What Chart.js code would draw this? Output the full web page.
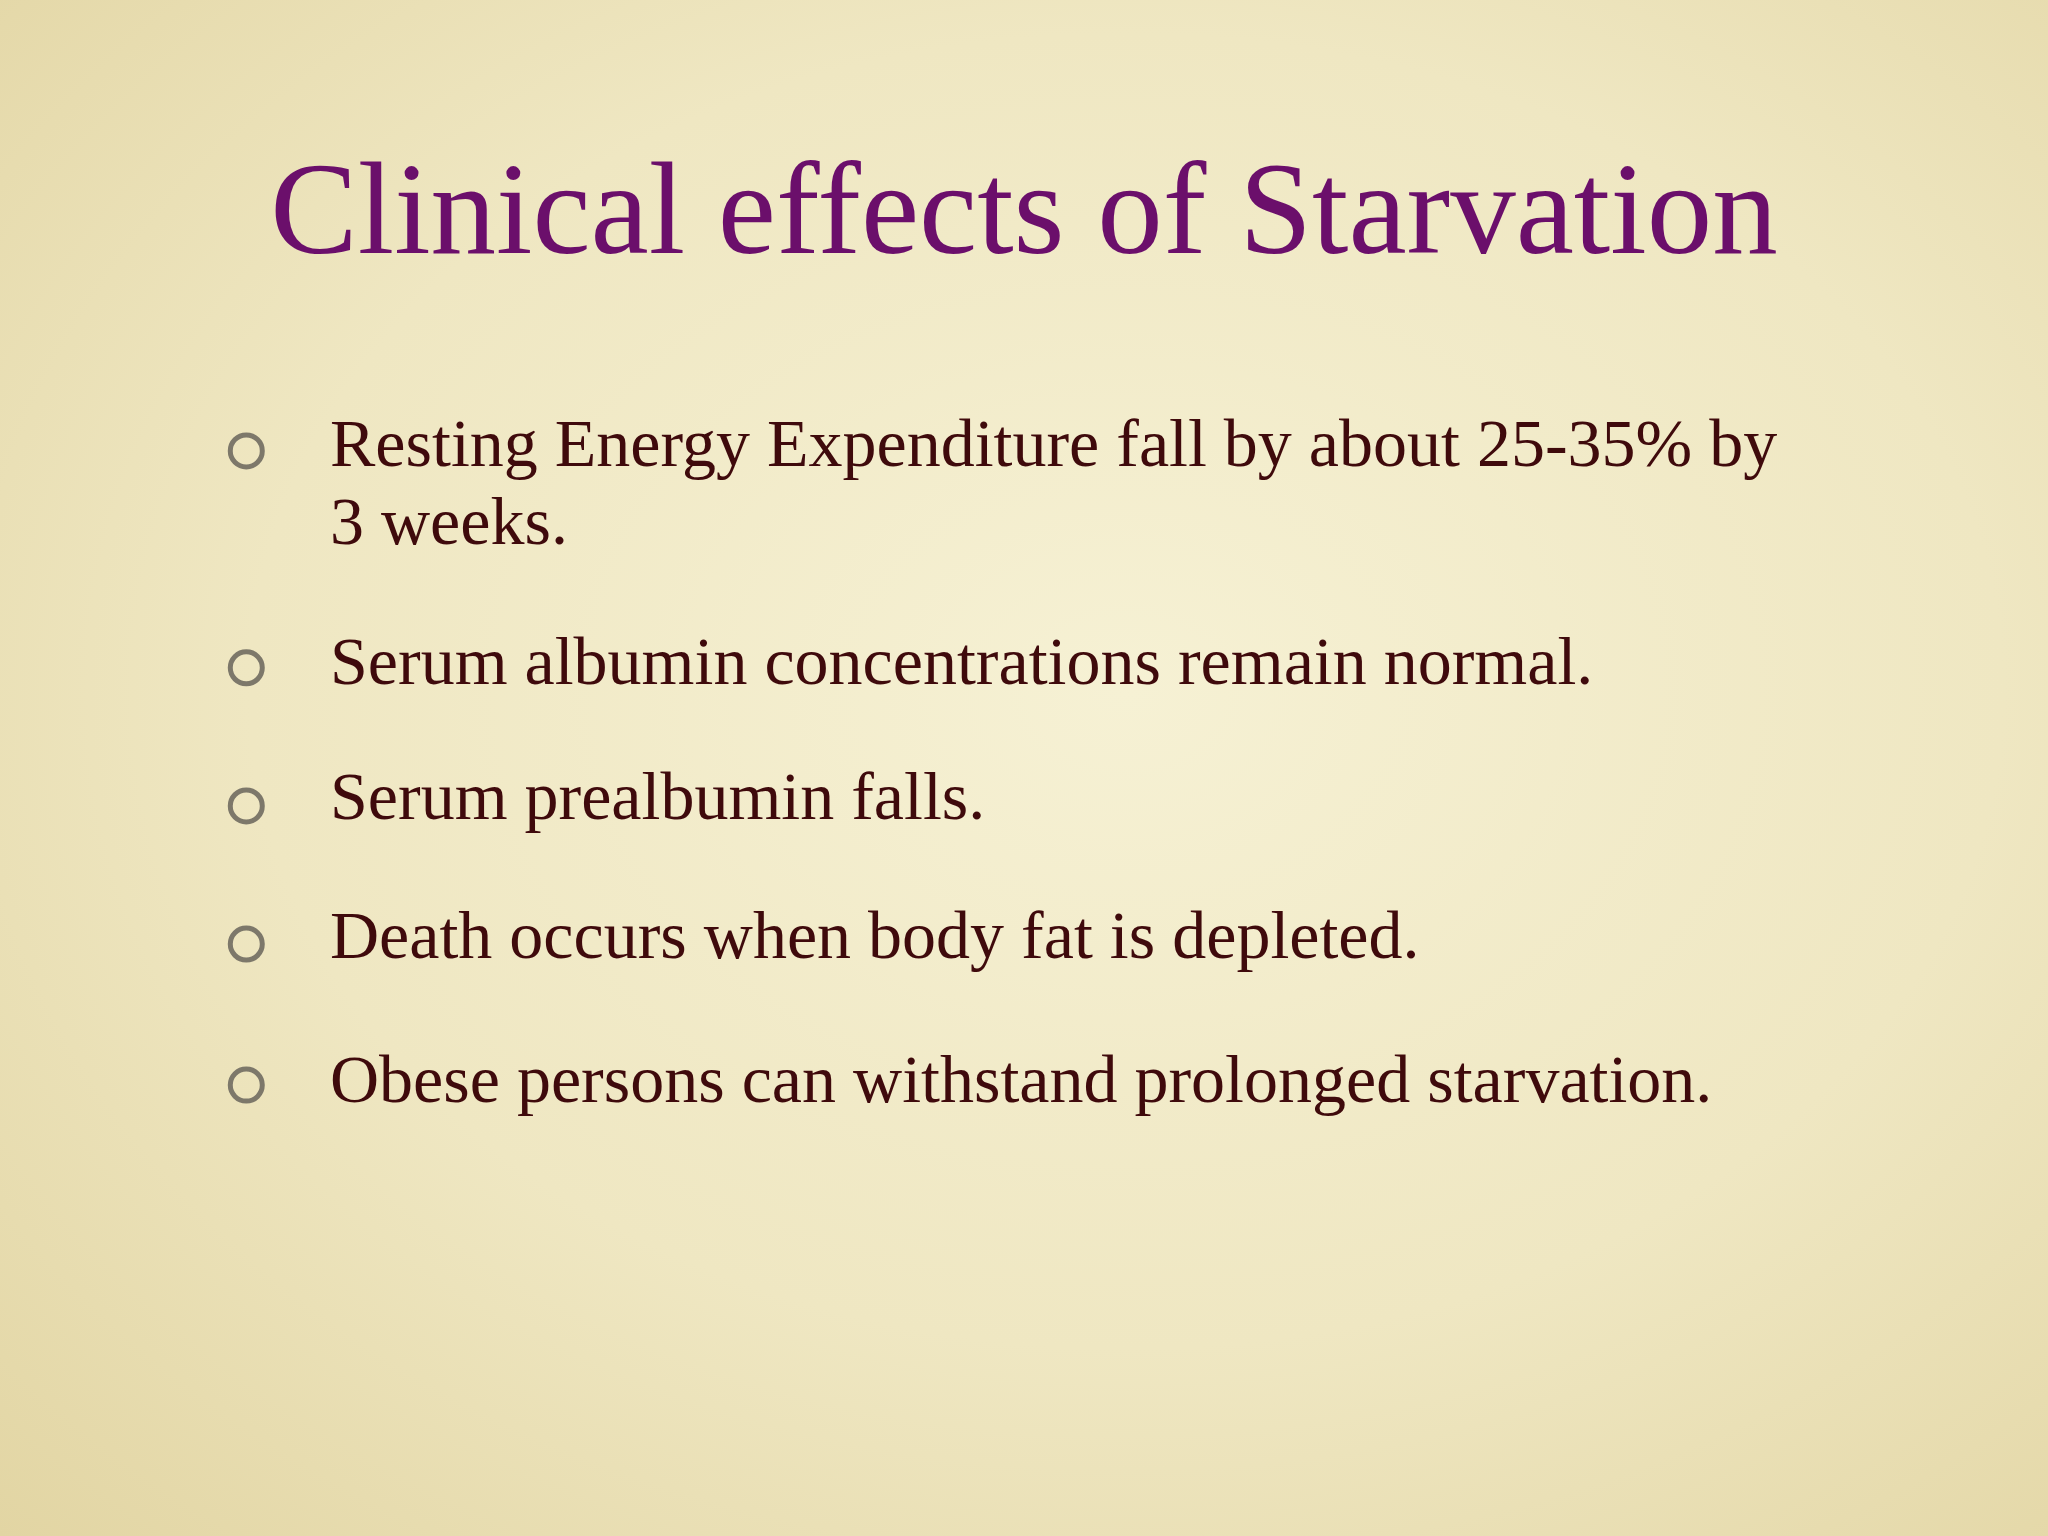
<!DOCTYPE html>
<html><head><meta charset="utf-8">
<script src="https://cdn.jsdelivr.net/npm/chart.js@4.4.1/dist/chart.umd.min.js"></script>
<style>
html,body{margin:0;padding:0;width:2048px;height:1536px;overflow:hidden;}
#wrap{position:relative;width:2048px;height:1536px;
background:radial-gradient(ellipse at 55% 45%, #f6f1d4 0%, #efe7c2 55%, #e2d5a3 100%);}
canvas{position:absolute;left:0;top:0;}
.t{position:absolute;font-family:"Liberation Serif","Times New Roman",serif;white-space:nowrap;}
#title{left:0;width:2048px;text-align:center;font-size:131px;line-height:131px;color:#6b0f6b;top:143px;}
.b{font-size:68px;line-height:68px;color:#3f0a0c;left:330px;}
</style></head><body>
<div id="wrap"><canvas id="c" width="2048" height="1536"></canvas>
<div id="title" class="t">Clinical effects of Starvation</div>
<div id="lines"></div></div>
<script>
const titleText = "Clinical effects of Starvation";
const bulletLines = [
 ["Resting Energy Expenditure fall by about 25-35% by","3 weeks."],
 ["Serum albumin concentrations remain normal."],
 ["Serum prealbumin falls."],
 ["Death occurs when body fat is depleted."],
 ["Obese persons can withstand prolonged starvation."]
];
const bulletY = [442, 665, 807, 949, 1094];
const baselines = [[466,546],[690],[829],[972],[1120]];
const bulletX = bulletLines.map(()=>230);

const ctx = document.getElementById('c');
const chart = new Chart(ctx, {
  type:'scatter',
  data:{datasets:[{data:bulletX.map((x,i)=>({x:x,y:bulletY[i]})),
    pointRadius:16, pointBorderWidth:5, borderColor:'#7d786a', backgroundColor:'rgba(0,0,0,0)'}]},
  options:{responsive:false,animation:false,events:[],
    layout:{padding:0},
    plugins:{legend:{display:false},tooltip:{enabled:false}},
    scales:{x:{type:'linear',min:0,max:2048,display:false},
            y:{type:'linear',min:0,max:1536,reverse:true,display:false}}}
});
const ys = chart.scales.y;
const box = document.getElementById('lines');
bulletLines.forEach((lines,i)=>{
  lines.forEach((txt,j)=>{
    const d=document.createElement('div');
    d.className='t b'; d.textContent=txt;
    d.style.top=(ys.getPixelForValue(baselines[i][j])-65)+'px';
    box.appendChild(d);
  });
});
</script></body></html>
